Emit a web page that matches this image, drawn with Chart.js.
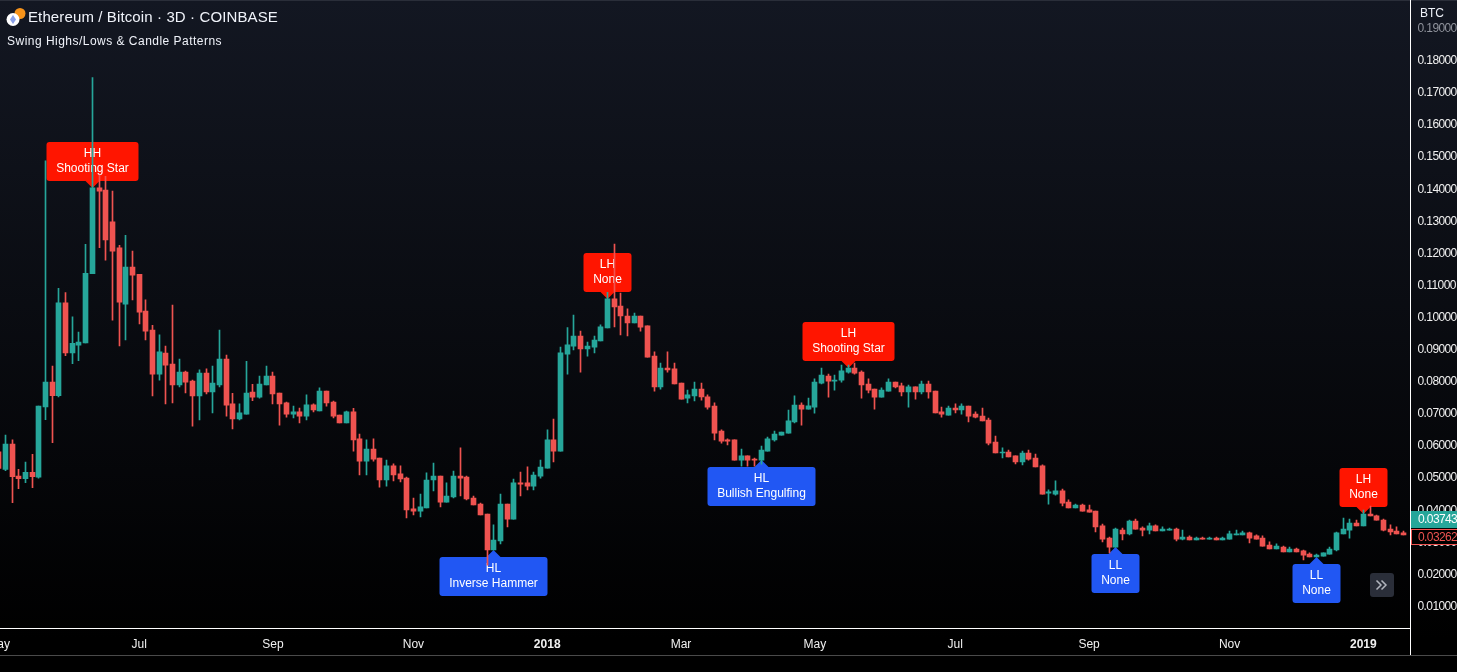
<!DOCTYPE html>
<html><head><meta charset="utf-8"><title>ETH/BTC</title>
<style>html,body{margin:0;padding:0;background:#000;overflow:hidden}canvas{display:block}</style>
<script src="https://cdn.jsdelivr.net/npm/chart.js@4/dist/chart.umd.min.js"></script>
</head><body><canvas id="c" width="1457" height="672"></canvas>
<script>
const opens=[.0579,.0524,.0603,.0503,.0495,.0515,.0500,.0719,.0796,.0754,
.1043,.0887,.0911,.0918,.1134,.1401,.1394,.1295,.1214,.1039,
.1154,.1132,.1017,.0958,.0821,.0886,.0852,.0787,.0827,.0799,
.0753,.0824,.0765,.0787,.0868,.0728,.0681,.0696,.0765,.0749,
.0787,.0815,.0762,.0731,.0696,.0703,.0690,.0725,.0706,.0768,
.0734,.0693,.0669,.0703,.0619,.0550,.0587,.0559,.0491,.0535,
.0510,.0497,.0401,.0394,.0404,.0491,.0503,.0422,.0438,.0503,
.0500,.0435,.0416,.0385,.0273,.0301,.0416,.0369,.0482,.0482,
.0472,.0503,.0528,.0616,.0581,.0883,.0908,.0939,.0899,.0905,
.0924,.0965,.1055,.1033,.1002,.0980,.1002,.0971,.0877,.0781,
.0840,.0837,.0793,.0746,.0753,.0774,.0750,.0721,.0643,.0616,
.0616,.0553,.0566,.0556,.0553,.0581,.0616,.0631,.0637,.0672,
.0724,.0712,.0718,.0793,.0815,.0799,.0802,.0827,.0840,.0827,
.0790,.0774,.0749,.0768,.0796,.0784,.0765,.0781,.0765,.0790,
.0768,.0703,.0693,.0715,.0709,.0721,.0696,.0690,.0678,.0609,
.0575,.0578,.0566,.0547,.0575,.0559,.0535,.0450,.0447,.0457,
.0422,.0404,.0413,.0398,.0394,.0348,.0310,.0282,.0335,.0323,
.0363,.0341,.0335,.0348,.0332,.0335,.0338,.0307,.0313,.0304,
.0310,.0307,.0310,.0304,.0307,.0320,.0320,.0326,.0317,.0310,
.0288,.0276,.0282,.0267,.0276,.0270,.0260,.0251,.0254,.0260,
.0273,.0323,.0335,.0357,.0348,.0385,.0379,.0366,.0338,.0332,
.0326];
const closes=[.0527,.0603,.0501,.0495,.0515,.0501,.0721,.0796,.0754,.1043,
.0887,.0917,.0921,.1135,.1401,.1391,.1239,.1204,.1045,.1154,
.1129,.1014,.0955,.0821,.0890,.0849,.0787,.0827,.0796,.0753,
.0824,.0765,.0793,.0868,.0724,.0681,.0700,.0762,.0749,.0790,
.0815,.0759,.0728,.0696,.0703,.0690,.0725,.0709,.0768,.0731,
.0690,.0669,.0703,.0616,.0550,.0587,.0556,.0491,.0535,.0507,
.0494,.0398,.0394,.0407,.0491,.0503,.0422,.0441,.0503,.0497,
.0432,.0413,.0382,.0273,.0304,.0416,.0369,.0482,.0478,.0472,
.0506,.0531,.0616,.0581,.0887,.0912,.0939,.0899,.0908,.0927,
.0968,.1055,.1030,.1002,.0980,.1002,.0967,.0874,.0781,.0840,
.0834,.0790,.0743,.0756,.0774,.0750,.0718,.0637,.0612,.0612,
.0553,.0566,.0553,.0553,.0584,.0619,.0634,.0640,.0675,.0724,
.0712,.0722,.0796,.0818,.0799,.0802,.0831,.0840,.0824,.0787,
.0771,.0749,.0771,.0796,.0781,.0765,.0781,.0765,.0790,.0765,
.0700,.0696,.0715,.0709,.0721,.0690,.0687,.0675,.0606,.0575,
.0578,.0563,.0547,.0575,.0556,.0532,.0447,.0454,.0457,.0419,
.0404,.0413,.0394,.0391,.0345,.0307,.0282,.0338,.0323,.0363,
.0338,.0335,.0348,.0332,.0338,.0338,.0307,.0313,.0304,.0310,
.0307,.0310,.0304,.0310,.0323,.0323,.0326,.0310,.0307,.0285,
.0276,.0285,.0267,.0276,.0267,.0257,.0251,.0257,.0264,.0276,
.0326,.0338,.0357,.0348,.0385,.0379,.0366,.0335,.0329,.0323,
.0320];
const highs=[.0605,.0631,.0616,.0524,.0547,.0571,.0721,.1485,.0846,.1088,
.1075,.0999,.0952,.1225,.1745,.1441,.1437,.1391,.1222,.1253,
.1204,.1132,.1052,.0973,.0943,.0908,.1036,.0868,.0830,.0802,
.0834,.0837,.0846,.0958,.0880,.0761,.0728,.0861,.0789,.0815,
.0846,.0827,.0762,.0734,.0721,.0715,.0756,.0728,.0778,.0768,
.0737,.0693,.0706,.0714,.0634,.0616,.0619,.0559,.0553,.0541,
.0535,.0500,.0435,.0447,.0513,.0544,.0503,.0482,.0519,.0591,
.0503,.0441,.0419,.0385,.0351,.0447,.0416,.0494,.0516,.0532,
.0516,.0553,.0647,.0681,.0905,.0966,.1005,.0955,.0921,.0939,
.0974,.1076,.1226,.1073,.1024,.1011,.1002,.0971,.0890,.0855,
.0890,.0855,.0793,.0771,.0796,.0793,.0756,.0731,.0647,.0619,
.0616,.0587,.0566,.0559,.0597,.0625,.0643,.0640,.0709,.0753,
.0731,.0746,.0806,.0840,.0821,.0818,.0849,.0849,.0855,.0831,
.0806,.0774,.0778,.0806,.0796,.0793,.0787,.0781,.0799,.0799,
.0768,.0718,.0721,.0728,.0728,.0721,.0703,.0715,.0684,.0628,
.0591,.0584,.0566,.0581,.0584,.0572,.0538,.0460,.0488,.0463,
.0429,.0416,.0416,.0413,.0394,.0354,.0313,.0341,.0341,.0366,
.0369,.0345,.0357,.0351,.0345,.0341,.0341,.0335,.0317,.0313,
.0313,.0313,.0313,.0313,.0332,.0335,.0332,.0329,.0320,.0317,
.0298,.0292,.0285,.0282,.0279,.0273,.0264,.0260,.0264,.0282,
.0329,.0372,.0369,.0366,.0397,.0410,.0382,.0369,.0351,.0345,
.0332];
const lows=[.0512,.0520,.0420,.0464,.0483,.0467,.0497,.0679,.0607,.0750,
.0878,.0853,.0863,.0918,.1134,.1215,.1176,.0989,.0909,.0927,
.1052,.0977,.0927,.0753,.0802,.0728,.0731,.0781,.0762,.0659,
.0678,.0759,.0700,.0781,.0690,.0650,.0678,.0696,.0738,.0746,
.0787,.0728,.0662,.0687,.0684,.0669,.0678,.0703,.0706,.0721,
.0684,.0669,.0669,.0581,.0507,.0507,.0550,.0469,.0472,.0488,
.0485,.0373,.0382,.0376,.0404,.0457,.0407,.0422,.0435,.0441,
.0429,.0413,.0382,.0226,.0273,.0292,.0345,.0369,.0441,.0460,
.0460,.0497,.0528,.0547,.0581,.0821,.0896,.0827,.0877,.0887,
.0924,.0965,.0968,.0943,.0940,.0980,.0955,.0874,.0768,.0774,
.0827,.0790,.0743,.0731,.0737,.0740,.0712,.0616,.0606,.0600,
.0553,.0534,.0534,.0534,.0540,.0581,.0612,.0631,.0637,.0669,
.0662,.0712,.0699,.0790,.0749,.0771,.0796,.0824,.0821,.0746,
.0762,.0712,.0749,.0768,.0778,.0753,.0718,.0743,.0759,.0746,
.0700,.0687,.0693,.0700,.0696,.0672,.0684,.0675,.0600,.0575,
.0560,.0563,.0541,.0538,.0553,.0532,.0447,.0416,.0444,.0410,
.0404,.0404,.0394,.0391,.0329,.0298,.0264,.0282,.0304,.0320,
.0338,.0317,.0323,.0332,.0332,.0335,.0301,.0304,.0304,.0304,
.0307,.0307,.0304,.0304,.0307,.0320,.0320,.0295,.0307,.0285,
.0276,.0276,.0267,.0267,.0267,.0242,.0251,.0251,.0254,.0260,
.0270,.0323,.0310,.0348,.0348,.0379,.0366,.0332,.0320,.0323,
.0320];
const tickIndexes=[0,21,41,62,82,102,122,143,163,184,204];
const tickLabels=['May','Jul','Sep','Nov','2018','Mar','May','Jul','Sep','Nov','2019'];
const priceTicks=[.01,.02,.03,.04,.05,.06,.07,.08,.09,.10,.11,.12,.13,.14,.15,.16,.17,.18,.19];
const swingIndexes=[14,74,91,114,127,167,197,204];
const swingKinds=['high','low','high','low','high','low','low','high'];
const swingNames=['HH','HL','LH','HL','LH','LL','LL','LH'];
const swingPatterns=['Shooting Star','Inverse Hammer','None','Bullish Engulfing','Shooting Star','None','None','None'];
const titleText='Ethereum / Bitcoin · 3D · COINBASE';
const subtitleText='Swing Highs/Lows & Candle Patterns';
const unitText='BTC';
const lastPrice='0.03743', prevPrice='0.03262';

const UP='#26a69a', DOWN='#ef5350', FONT='"Liberation Sans", Arial, sans-serif';
const indexes=opens.map((_,i)=>i);
const colours=indexes.map(i=>closes[i]>=opens[i]?UP:DOWN);

function rr(ctx,x,y,w,h,r){ctx.beginPath();ctx.roundRect(x,y,w,h,r);}

const frame={id:'frame',
  beforeDraw(ch){const c=ch.ctx,g=c.createLinearGradient(0,0,0,640);
    g.addColorStop(0,'#131722');g.addColorStop(1,'#000000');
    c.save();c.fillStyle=g;c.fillRect(0,0,1457,672);c.restore();},
  afterDatasetsUpdate(ch){ch.data.datasets.forEach((d,k)=>{
    ch.getDatasetMeta(k).data.forEach(el=>{el.x=Math.floor(el.x)+.5;});});},
  beforeDatasetsDraw(ch){const c=ch.ctx,xs=ch.scales.x,ys=ch.scales.y;
    c.save();
    c.font='12px '+FONT;c.textAlign='center';c.textBaseline='middle';
    swingIndexes.forEach((ix,k)=>{
      const hi=swingKinds[k]==='high';
      const x=Math.floor(xs.getPixelForValue(ix))+.5;
      const tip=ys.getPixelForValue(hi?Math.max(opens[ix],closes[ix]):Math.min(opens[ix],closes[ix]));
      const w=Math.round(c.measureText(swingPatterns[k]).width)+19;
      const boxH=39,gap=7;
      const top=hi?tip-gap-boxH:tip+gap,edge=hi?top+boxH:top;
      c.fillStyle=hi?'#ff1500':'#2157f3';
      rr(c,x-w/2,top,w,boxH,3);c.fill();
      c.beginPath();c.moveTo(x-7,edge);c.lineTo(x,tip);c.lineTo(x+7,edge);c.closePath();c.fill();
      c.fillStyle='#ffffff';
      c.fillText(swingNames[k],x,top+12);
      c.fillText(swingPatterns[k],x,top+27);
    });
    c.restore();},
  afterDraw(ch){const c=ch.ctx;c.save();
    // frame lines
    c.fillStyle='#2a2e39';c.fillRect(0,0,1457,1);
    c.fillStyle='#4a4a4a';c.fillRect(0,655,1457,1);
    c.fillStyle='#ffffff';c.fillRect(1410,0,1,655);c.fillRect(0,628,1411,1);
    // header text
    c.textAlign='left';c.textBaseline='middle';
    c.fillStyle='#f0f3fa';c.font='15px '+FONT;c.letterSpacing='0.12px';
    c.fillText(titleText,28,18);
    c.font='12px '+FONT;c.letterSpacing='0.48px';
    c.fillText(subtitleText,7,41.5);
    c.letterSpacing='0px';
    c.fillText(unitText,1420,14);
    // logo
    c.fillStyle='#f7931a';c.beginPath();c.arc(20,13.5,5.5,0,7);c.fill();
    c.fillStyle='#ffffff';c.beginPath();c.arc(13,19.5,6.5,0,7);c.fill();
    c.fillStyle='#8aa0e8';c.beginPath();c.moveTo(13,15);c.lineTo(16,19.5);c.lineTo(13,24);c.lineTo(10,19.5);c.closePath();c.fill();
    // last price tags
    c.font='12px '+FONT;c.textBaseline='middle';c.letterSpacing='-0.6px';
    c.fillStyle=UP;c.fillRect(1411,511,46,17);
    c.fillStyle='#ffffff';c.fillText(lastPrice,1418,520);
    c.fillStyle='#000000';c.fillRect(1411,529,46,16);
    c.strokeStyle=DOWN;c.lineWidth=1;c.strokeRect(1411.5,529.5,46,15);
    c.fillStyle=DOWN;c.fillText(prevPrice,1418,537.5);
    // scroll button
    c.fillStyle='#2a2e39';rr(c,1370,573,24,24,3);c.fill();
    c.strokeStyle='#b2b5be';c.lineWidth=1.5;c.beginPath();
    c.moveTo(1376.5,580.5);c.lineTo(1381,585);c.lineTo(1376.5,589.5);
    c.moveTo(1381.5,580.5);c.lineTo(1386,585);c.lineTo(1381.5,589.5);c.stroke();
    c.restore();}
};

new Chart(document.getElementById('c'),{
  type:'bar',
  data:{datasets:[
    {label:'Body',data:indexes.map(i=>({x:i,y:[opens[i],closes[i]]})),backgroundColor:colours,barThickness:5,grouped:false,borderWidth:0,borderSkipped:false},
    {label:'Wick',data:indexes.map(i=>({x:i,y:[lows[i],highs[i]]})),backgroundColor:colours,barThickness:1,grouped:false,borderWidth:0,borderSkipped:false}
  ]},
  options:{
    responsive:false,animation:false,devicePixelRatio:1,
    layout:{autoPadding:false,padding:0},
    plugins:{legend:{display:false},tooltip:{enabled:false},title:{display:false}},
    scales:{
      x:{type:'linear',min:.2,max:211.05,offset:false,
        grid:{display:false,drawTicks:false},border:{display:false},
        afterFit(s){s.height=43.5;s.paddingLeft=0;s.paddingRight=0;},
        afterBuildTicks(s){s.ticks=tickIndexes.map(v=>({value:v}));},
        ticks:{autoSkip:false,maxRotation:0,minRotation:0,padding:9,color:'#f0f0f0',
          font:c=>({family:FONT,size:12,weight:/^20/.test(c.tick&&c.tick.label||'')?'bold':'normal'}),
          callback:v=>tickLabels[tickIndexes.indexOf(v)]}
      },
      y:{type:'linear',position:'right',min:.002835,max:.19863,
        grid:{display:false,drawTicks:false},border:{display:false},
        afterFit(s){s.width=46.5;s.paddingTop=0;s.paddingBottom=0;
          if(!s._wrapped){s._wrapped=true;const draw=s.drawLabels;
            s.drawLabels=function(a){const c=this.ctx;c.save();c.translate(0,1);c.letterSpacing='-0.6px';draw.call(this,a);c.restore();};}},
        afterBuildTicks(s){s.ticks=priceTicks.map(v=>({value:v}));},
        ticks:{padding:7,color:c=>c.tick&&c.tick.value>.185?'#8f929b':'#f0f0f0',font:{family:FONT,size:12},autoSkip:false,crossAlign:'near',
          callback:v=>v.toFixed(5)}
      }
    }
  },
  plugins:[frame]
});
</script></body></html>
